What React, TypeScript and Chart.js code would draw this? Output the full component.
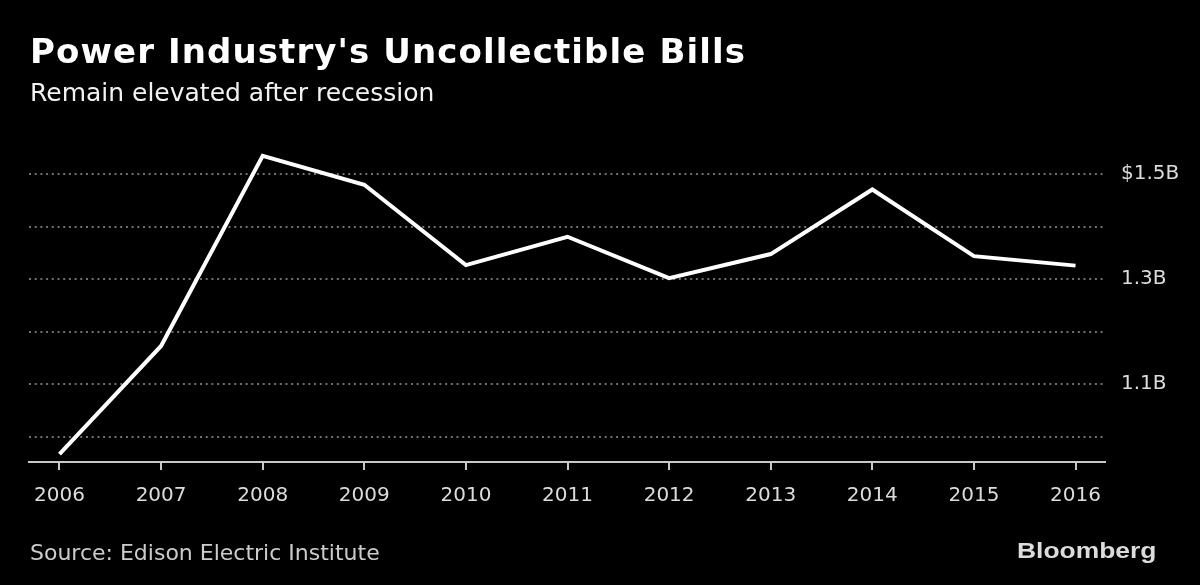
import React, { useEffect, useRef } from "react";
import { Chart, registerables } from "chart.js";

Chart.register(...registerables);

// Annual uncollectible bills, billions of dollars
const years = [2006, 2007, 2008, 2009, 2010, 2011, 2012, 2013, 2014, 2015, 2016];
const billsBn = [0.967, 1.173, 1.535, 1.48, 1.327, 1.381, 1.302, 1.348, 1.471, 1.344, 1.326];

// Horizontal guide lines and the labels shown next to them
const gridValues = [1.0, 1.1, 1.2, 1.3, 1.4, 1.5];
const gridLabels = ["", "1.1B", "", "1.3B", "", "$1.5B"];

const FONT = '"DejaVu Sans", "Open Sans", sans-serif';

export default function App() {
  const canvasRef = useRef<HTMLCanvasElement | null>(null);

  useEffect(() => {
    const canvas = canvasRef.current;
    if (!canvas) return;
    const chart = new Chart(canvas, {
      type: "line",
      data: {
        datasets: [
          {
            data: years.map((y, i) => ({ x: y, y: billsBn[i] })),
            borderColor: "#ffffff",
            borderWidth: 4,
            pointRadius: 0,
            tension: 0,
            borderCapStyle: "butt",
            borderJoinStyle: "miter",
          },
        ],
      },
      options: {
        animation: false,
        responsive: false,
        maintainAspectRatio: false,
        layout: { padding: { left: 29, top: 148, right: 0, bottom: 0 } },
        plugins: { legend: { display: false }, tooltip: { enabled: false } },
        scales: {
          x: {
            type: "linear",
            min: 2005.7,
            max: 2016.29,
            afterBuildTicks: (axis: any) => {
              axis.ticks = years.map((v) => ({ value: v }));
            },
            afterFit: (axis: any) => {
              axis.height = 123;
            },
            border: { display: true, color: "#c8c8c8", width: 2 },
            grid: {
              drawOnChartArea: false,
              drawTicks: true,
              tickLength: 8,
              color: "#c8c8c8",
              lineWidth: 2,
            },
            ticks: {
              color: "#dcdcdc",
              padding: 14,
              maxRotation: 0,
              autoSkip: false,
              font: { family: FONT, size: 20 },
              callback: (v: any) => String(v),
            },
          },
          y: {
            position: "right",
            min: 0.952,
            max: 1.55,
            afterBuildTicks: (axis: any) => {
              axis.ticks = gridValues.map((v) => ({ value: v }));
            },
            afterFit: (axis: any) => {
              axis.width = 95;
            },
            border: { display: false, dash: [2, 3.7] },
            grid: {
              drawTicks: false,
              color: "#707070",
              lineWidth: 2,
            },
            ticks: {
              color: "#dcdcdc",
              padding: 16,
              font: { family: FONT, size: 20 },
              callback: (_v: any, i: number) => gridLabels[i],
            },
          },
        },
      },
    });
    return () => chart.destroy();
  }, []);

  return (
    <div
      style={{
        position: "fixed",
        left: 0,
        top: 0,
        width: 1200,
        height: 585,
        background: "#000000",
        overflow: "hidden",
        fontFamily: FONT,
      }}
    >
      <canvas ref={canvasRef} width={1200} height={585} style={{ position: "absolute", left: 0, top: 0 }} />
      <div
        style={{
          position: "absolute",
          left: 30,
          top: 34,
          fontSize: 34,
          lineHeight: 1,
          fontWeight: 700,
          letterSpacing: 1.1,
          color: "#ffffff",
          whiteSpace: "nowrap",
        }}
      >
        Power Industry's Uncollectible Bills
      </div>
      <div
        style={{
          position: "absolute",
          left: 30,
          top: 80,
          fontSize: 25,
          lineHeight: 1,
          color: "#f2f2f2",
          whiteSpace: "nowrap",
        }}
      >
        Remain elevated after recession
      </div>
      <div
        style={{
          position: "absolute",
          left: 30,
          top: 542,
          fontSize: 22,
          lineHeight: 1,
          color: "#cccccc",
          whiteSpace: "nowrap",
        }}
      >
        Source: Edison Electric Institute
      </div>
      <div
        style={{
          position: "absolute",
          left: 1017,
          top: 540,
          fontSize: 22,
          lineHeight: 1,
          fontWeight: 700,
          color: "#dcdcdc",
          fontFamily: '"Liberation Sans", Arial, sans-serif',
          whiteSpace: "nowrap",
          transform: "scaleX(1.2)",
          transformOrigin: "left top",
        }}
      >
        Bloomberg
      </div>
    </div>
  );
}
